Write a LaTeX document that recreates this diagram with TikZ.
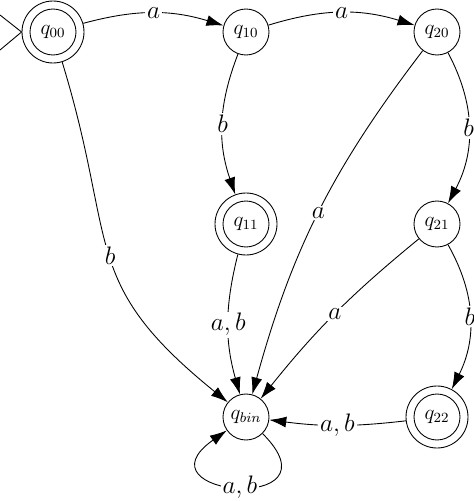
\documentclass[tikz,border=0pt]{standalone}
\usepackage{amsmath, amsfonts, amssymb}
\usepackage{xcolor}
\usepackage{tikz}
\usetikzlibrary{arrows.meta}

\begin{document}
\begin{tikzpicture}[
  state/.style={circle, draw, line width=0.5, minimum size=9.2mm, inner sep=0pt, font=\large},
  final/.style={state, minimum size=12.4mm,
    path picture={\draw[line width=0.5] (path picture bounding box.center) circle (4.6mm);}},
  trans/.style={-{Latex[length=3.4mm, width=2.2mm]}, line width=0.5},
  lab/.style={fill=white, inner sep=1pt, font=\Large}
]

\useasboundingbox (-1.06,0.64) rectangle (8.42,-9.38);

\node[final] (q00)  at (0   , 0    ) {$q_{00}$};
\node[state] (q10)  at (3.86, 0    ) {$q_{10}$};
\node[state] (q20)  at (7.68, 0    ) {$q_{20}$};
\node[final] (q11)  at (3.86,-3.84 ) {$q_{11}$};
\node[state] (q21)  at (7.68,-3.84 ) {$q_{21}$};
\node[state] (qbin) at (3.86,-7.70 ) {$q_{bin}$};
\node[final] (q22)  at (7.68,-7.70 ) {$q_{22}$};

\coordinate (in1) at (-1.06, 0.34);
\coordinate (in2) at (-1.06,-0.36);
\draw[line width=0.5] (in1)--(q00.west)--(in2);

\draw[trans] (q00) to[bend left=16]  node[lab] {$a$} (q10);
\draw[trans] (q10) to[bend left=17]  node[lab] {$a$} (q20);
\draw[trans] (q10) to[bend right=20] node[lab] {$b$} (q11);
\draw[trans] (q20) to[bend left=28]  node[lab] {$b$} (q21);
\draw[trans] (q21) to[bend left=28]  node[lab] {$b$} (q22);

\draw[trans] (q00) to[out=-73, in=141, looseness=1.3] node[lab] {$b$} (qbin);
\draw[trans] (q11) to[bend right=15] node[lab] {$a,b$} (qbin);
\draw[trans] (q20) to[bend right=11] node[lab] {$a$} (qbin);
\draw[trans] (q21) to[bend right=6]  node[lab] {$a$} (qbin);
\draw[trans] (q22) to[bend left=7]   node[lab] {$a,b$} (qbin);

\draw[trans] (qbin) to[out=-45, in=-145, min distance=2.3cm] node[lab] {$a,b$} (qbin);

\end{tikzpicture}
\end{document}
